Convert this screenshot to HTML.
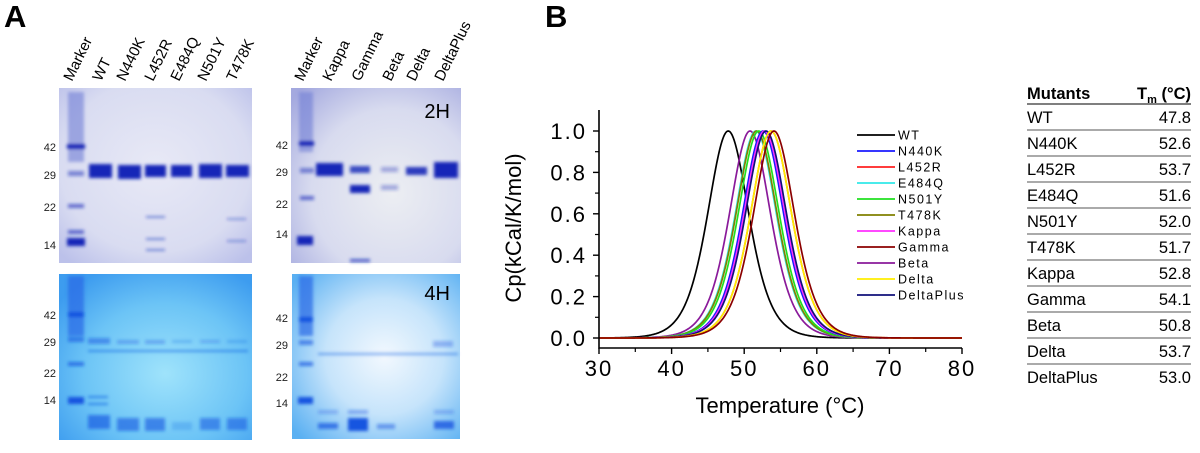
<!DOCTYPE html>
<html><head><meta charset="utf-8">
<style>
body{margin:0;background:#fff;width:1200px;height:453px;overflow:hidden;font-family:"Liberation Sans",sans-serif}
svg{position:absolute;left:0;top:0}
</style></head>
<body>
<svg width="1200" height="453" viewBox="0 0 1200 453">
<defs>
<filter id="bl" x="-50%" y="-50%" width="200%" height="200%"><feGaussianBlur stdDeviation="1.6"/></filter>
<radialGradient id="gTop" cx="0.5" cy="0.45" r="0.7"><stop offset="0" stop-color="#e8e9f6"/><stop offset="0.7" stop-color="#d9dcf1"/><stop offset="1" stop-color="#bcc1ea"/></radialGradient>
<radialGradient id="gTop2" cx="0.6" cy="0.6" r="0.8"><stop offset="0" stop-color="#eceef2"/><stop offset="0.6" stop-color="#d8dbef"/><stop offset="1" stop-color="#a4a9df"/></radialGradient>
<radialGradient id="gBot" cx="0.55" cy="0.6" r="0.7"><stop offset="0" stop-color="#9fe3fb"/><stop offset="0.6" stop-color="#6cc4f6"/><stop offset="1" stop-color="#3d9cef"/></radialGradient>
<radialGradient id="gBot2" cx="0.55" cy="0.5" r="0.7"><stop offset="0" stop-color="#f2f8fe"/><stop offset="0.5" stop-color="#c6e4fb"/><stop offset="1" stop-color="#5ab0f2"/></radialGradient>
</defs>

<text x="4" y="27" font-size="31" font-weight="bold">A</text>
<text x="545" y="27" font-size="31" font-weight="bold">B</text>

<g font-size="15">
<text transform="translate(72,82) rotate(-64)">Marker</text>
<text transform="translate(101,82) rotate(-64)">WT</text>
<text transform="translate(125,82) rotate(-64)">N440K</text>
<text transform="translate(153,82) rotate(-64)">L452R</text>
<text transform="translate(179,82) rotate(-64)">E484Q</text>
<text transform="translate(206,82) rotate(-64)">N501Y</text>
<text transform="translate(235,82) rotate(-64)">T478K</text>
<text transform="translate(303,82) rotate(-64)">Marker</text>
<text transform="translate(331,82) rotate(-64)">Kappa</text>
<text transform="translate(360,82) rotate(-64)">Gamma</text>
<text transform="translate(391,82) rotate(-64)">Beta</text>
<text transform="translate(415,82) rotate(-64)">Delta</text>
<text transform="translate(443,82) rotate(-64)">DeltaPlus</text>
</g>

<g font-size="11" fill="#222" text-anchor="end">
<text x="56" y="151">42</text><text x="56" y="179">29</text><text x="56" y="211">22</text><text x="56" y="249">14</text>
<text x="288" y="149">42</text><text x="288" y="176">29</text><text x="288" y="208">22</text><text x="288" y="238">14</text>
<text x="56" y="319">42</text><text x="56" y="346">29</text><text x="56" y="377">22</text><text x="56" y="404">14</text>
<text x="288" y="322">42</text><text x="288" y="349">29</text><text x="288" y="381">22</text><text x="288" y="407">14</text>
</g>

<g>
<rect x="59" y="88" width="193" height="175" fill="url(#gTop)"/>
<g filter="url(#bl)" fill="#1428b8">
<rect x="68" y="92" width="16" height="70" fill="#6f7fd6" opacity="0.6"/>
<rect x="67" y="144" width="18" height="5"/><rect x="68" y="171" width="16" height="5" opacity="0.5"/>
<rect x="68" y="204" width="16" height="4" opacity="0.6"/><rect x="67" y="238" width="18" height="8"/>
<rect x="68" y="230" width="16" height="4" opacity="0.6"/>
<rect x="89" y="164" width="23" height="14"/><rect x="118" y="165" width="23" height="14"/>
<rect x="145" y="165" width="21" height="12"/><rect x="171" y="165" width="21" height="12"/>
<rect x="199" y="164" width="23" height="14"/><rect x="226" y="165" width="23" height="12"/>
<rect x="146" y="216" width="19" height="2" opacity="0.5"/><rect x="146" y="238" width="19" height="2" opacity="0.5"/><rect x="146" y="249" width="19" height="2" opacity="0.5"/>
<rect x="227" y="218" width="19" height="2" opacity="0.4"/><rect x="227" y="240" width="19" height="2" opacity="0.4"/>
</g></g>

<g>
<rect x="291" y="88" width="170" height="175" fill="url(#gTop2)"/>
<g filter="url(#bl)" fill="#1428b8">
<rect x="299" y="92" width="14" height="60" fill="#6f7fd6" opacity="0.6"/>
<rect x="299" y="141" width="15" height="5"/><rect x="300" y="168" width="14" height="5" opacity="0.5"/>
<rect x="300" y="196" width="14" height="4" opacity="0.6"/><rect x="297" y="236" width="16" height="9"/>
<rect x="316" y="163" width="27" height="13"/>
<rect x="350" y="166" width="20" height="7" opacity="0.8"/><rect x="350" y="185" width="20" height="8"/>
<rect x="381" y="167" width="17" height="5" opacity="0.35"/><rect x="381" y="185" width="17" height="5" opacity="0.35"/>
<rect x="406" y="167" width="21" height="8" opacity="0.9"/>
<rect x="434" y="162" width="24" height="16"/>
<rect x="350" y="259" width="20" height="3" opacity="0.7"/>
</g>
<text x="450" y="118" font-size="20" text-anchor="end">2H</text>
</g>

<g>
<rect x="59" y="274" width="193" height="166" fill="url(#gBot)"/>
<g filter="url(#bl)" fill="#1555e0">
<rect x="68" y="276" width="16" height="60" fill="#2a6ae6" opacity="0.7"/>
<rect x="68" y="312" width="16" height="5"/><rect x="68" y="337" width="16" height="5" opacity="0.6"/>
<rect x="68" y="362" width="16" height="4" opacity="0.7"/><rect x="68" y="397" width="16" height="7"/>
<rect x="88" y="338" width="22" height="6" opacity="0.5"/><rect x="117" y="340" width="22" height="4" opacity="0.35"/>
<rect x="145" y="340" width="20" height="4" opacity="0.35"/><rect x="172" y="340" width="20" height="3" opacity="0.25"/>
<rect x="200" y="340" width="20" height="3" opacity="0.3"/><rect x="227" y="340" width="20" height="3" opacity="0.25"/>
<rect x="88" y="350" width="160" height="2" opacity="0.55"/>
<rect x="88" y="396" width="20" height="2" opacity="0.6"/><rect x="88" y="403" width="20" height="2" opacity="0.6"/>
<rect x="88" y="415" width="22" height="14" opacity="0.65"/><rect x="117" y="418" width="22" height="13" opacity="0.6"/>
<rect x="145" y="418" width="20" height="13" opacity="0.6"/><rect x="172" y="422" width="20" height="8" opacity="0.2"/>
<rect x="200" y="418" width="20" height="12" opacity="0.55"/><rect x="227" y="418" width="20" height="12" opacity="0.55"/>
</g></g>

<g>
<rect x="292" y="274" width="168" height="165" fill="url(#gBot2)"/>
<g filter="url(#bl)" fill="#1555e0">
<rect x="299" y="276" width="14" height="60" fill="#2a6ae6" opacity="0.7"/>
<rect x="299" y="317" width="14" height="5"/><rect x="299" y="340" width="14" height="5" opacity="0.6"/>
<rect x="299" y="362" width="14" height="4" opacity="0.7"/><rect x="298" y="397" width="15" height="7"/>
<rect x="318" y="353" width="140" height="2" opacity="0.5"/>
<rect x="433" y="341" width="20" height="6" opacity="0.35"/>
<rect x="318" y="423" width="20" height="6" opacity="0.7"/><rect x="348" y="418" width="20" height="13"/>
<rect x="377" y="424" width="18" height="5" opacity="0.5"/><rect x="434" y="421" width="20" height="8" opacity="0.8"/>
<rect x="318" y="410" width="20" height="4" opacity="0.3"/><rect x="348" y="410" width="20" height="4" opacity="0.4"/><rect x="434" y="410" width="20" height="4" opacity="0.3"/>
</g>
<text x="450" y="300" font-size="20" text-anchor="end">4H</text>
</g>

<g id="chart"></g>
<g id="tbl" font-size="16.5"></g>
</svg>

<script>
const names = ["WT","N440K","L452R","E484Q","N501Y","T478K","Kappa","Gamma","Beta","Delta","DeltaPlus"];
const tmValues = [47.8,52.6,53.7,51.6,52.0,51.7,52.8,54.1,50.8,53.7,53.0];
const colors = ["#000000","#1a1aff","#ff2020","#30e8e8","#20e020","#808000","#ff30ff","#8b0000","#8a1a9a","#ffee00","#10107a"];
const xTicks = [30,40,50,60,70,80];
const yTicks = [0,0.2,0.4,0.6,0.8,1.0];
const tickLabelsY = ["0.0","0.2","0.4","0.6","0.8","1.0"];

const NS="http://www.w3.org/2000/svg";
function mk(tag,attrs,parent){const e=document.createElementNS(NS,tag);for(const k in attrs)e.setAttribute(k,attrs[k]);parent.appendChild(e);return e;}
const X0=599,X1=962,Y0=338,Y1=131;
const xs=t=>X0+(t-30)/(80-30)*(X1-X0);
const ys=v=>Y0-(v-0)/(1-0)*(Y0-Y1);
const chart=document.getElementById('chart');

const order=[0,8,3,5,4,1,6,10,2,9,7];
order.forEach(i=>{
  let d="";
  for(let t=30;t<=80.001;t+=0.1){
    const e=Math.exp(-(t-tmValues[i])/1.9);
    const v=4*e/((1+e)*(1+e));
    d+=(d?"L":"M")+xs(t).toFixed(2)+","+ys(v).toFixed(2);
  }
  const p=mk('path',{d:d,fill:"none",stroke:colors[i],"stroke-width":1.7},chart);
  
  
});

const ax=mk('path',{d:`M${X0},110 L${X0},348 L${X1},348`,fill:"none",stroke:"#000","stroke-width":1.6},chart);


xTicks.forEach((t,k)=>{
  mk('line',{x1:xs(t),x2:xs(t),y1:348,y2:354,stroke:"#000","stroke-width":1.4},chart);
  if(k<xTicks.length-1) mk('line',{x1:xs(t+5),x2:xs(t+5),y1:348,y2:352,stroke:"#000","stroke-width":1.2},chart);
  const tx=mk('text',{x:xs(t),y:376,"font-size":22,"text-anchor":"middle","letter-spacing":"2"},chart);
  tx.textContent=t;
  
  
});
yTicks.forEach((v,k)=>{
  mk('line',{x1:X0-6,x2:X0,y1:ys(v),y2:ys(v),stroke:"#000","stroke-width":1.4},chart);
  if(k<yTicks.length-1) mk('line',{x1:X0-4,x2:X0,y1:ys(v+0.1),y2:ys(v+0.1),stroke:"#000","stroke-width":1.2},chart);
  const tx=mk('text',{x:X0-12,y:ys(v)+8,"font-size":22,"text-anchor":"end","letter-spacing":"2"},chart);
  tx.textContent=tickLabelsY[k];
  
  
});
const xl=mk('text',{x:780,y:413,"font-size":22,"text-anchor":"middle"},chart);
xl.textContent="Temperature (°C)";


const yl=mk('text',{transform:"translate(521,228) rotate(-90)","font-size":22,"text-anchor":"middle"},chart);
yl.textContent="Cp(kCal/K/mol)";



names.forEach((n,i)=>{
  const y=135+i*16;
  const g=mk('g',{},chart);
  
  
  mk('line',{x1:857,x2:895,y1:y,y2:y,stroke:colors[i],"stroke-width":1.8},g);
  const t=mk('text',{x:898,y:y+4.5,"font-size":12.5,"letter-spacing":"1.5"},g);
  t.textContent=n;
});

const tbl=document.getElementById('tbl');
const L=1027,R=1191;
const h1=mk('text',{x:L,y:99,"font-weight":"bold"},tbl);h1.textContent="Mutants";


const h2=mk('text',{x:R,y:99,"font-weight":"bold","text-anchor":"end"},tbl);
h2.innerHTML='T<tspan font-size="11" dy="4">m</tspan><tspan dy="-4"> (°C)</tspan>';


names.forEach((n,i)=>{
  const top=104+i*26;
  mk('line',{x1:L,x2:R,y1:top,y2:top,stroke:"#555","stroke-width":i==0?1.6:1},tbl);
  const r=mk('g',{},tbl);
  
  
  const a=mk('text',{x:L,y:top+19},r);a.textContent=n;
  const b=mk('text',{x:R,y:top+19,"text-anchor":"end"},r);b.textContent=tmValues[i].toFixed(1);
});
</script>
</body></html>
